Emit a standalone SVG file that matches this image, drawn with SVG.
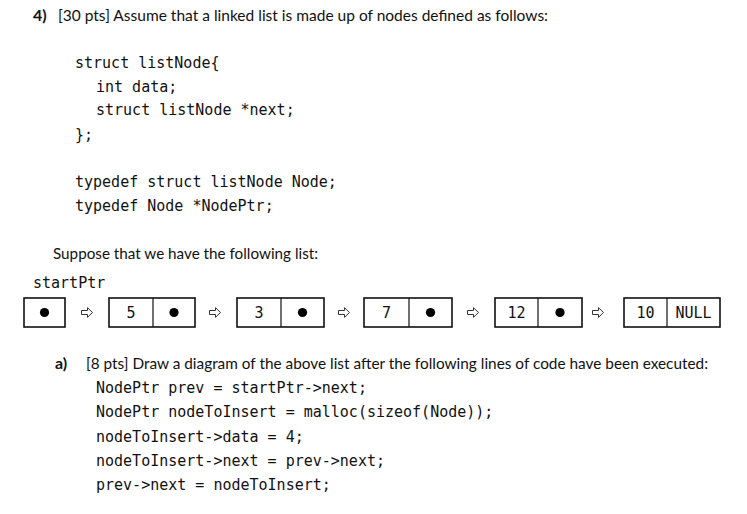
<svg xmlns="http://www.w3.org/2000/svg" xmlns:xlink="http://www.w3.org/1999/xlink" width="747" height="514" viewBox="0 0 747 514">
<style>
.t{font-family:Lato,"Open Sans","Liberation Sans",sans-serif;font-size:16px;fill:#111}
.b{font-weight:bold}
.m{font-family:"DejaVu Sans Mono","Liberation Mono",monospace;font-size:15px;fill:#111}
.box{fill:#fff;stroke:#111;stroke-width:1.6}
.div{stroke:#111;stroke-width:1.2}
.dot{fill:#000}
.c{text-anchor:middle}
.arr{fill:#fff;stroke:#333;stroke-width:1;stroke-linejoin:miter}
</style>
<defs>
<polygon id="harrow" class="arr" points="-5.5,-2 0.5,-2 0.5,-4.8 5.5,0 0.5,4.8 0.5,2 -5.5,2"/>
</defs>
<rect width="747" height="514" fill="#fff"/>
<g id="title">
<text class="t b" x="33" y="21">4)</text>
<text class="t" x="58" y="21" textLength="490" lengthAdjust="spacingAndGlyphs">[30 pts] Assume that a linked list is made up of nodes defined as follows:</text>
</g>
<g id="code-struct">
<text class="m" x="75" y="68">struct listNode{</text>
<text class="m" x="96" y="92">int data;</text>
<text class="m" x="96" y="115">struct listNode *next;</text>
<text class="m" x="75" y="140">};</text>
<text class="m" x="75" y="187">typedef struct listNode Node;</text>
<text class="m" x="75" y="211">typedef Node *NodePtr;</text>
</g>
<g id="suppose">
<text class="t" x="53" y="259" textLength="265" lengthAdjust="spacingAndGlyphs">Suppose that we have the following list:</text>
<text class="m" x="33" y="288">startPtr</text>
</g>
<g id="node-startPtr">
<rect class="box" x="24" y="298" width="41" height="29"/>
<circle class="dot" cx="44.5" cy="312.5" r="4.6"/>
</g>
<g id="node-5">
<rect class="box" x="109" y="298" width="86" height="29"/>
<line class="div" x1="153" y1="298" x2="153" y2="327"/>
<text class="m c" x="131" y="318">5</text>
<circle class="dot" cx="174" cy="312.5" r="4.6"/>
</g>
<g id="node-3">
<rect class="box" x="237" y="298" width="87" height="29"/>
<line class="div" x1="281" y1="298" x2="281" y2="327"/>
<text class="m c" x="259" y="318">3</text>
<circle class="dot" cx="302.5" cy="312.5" r="4.6"/>
</g>
<g id="node-7">
<rect class="box" x="364" y="298" width="88" height="29"/>
<line class="div" x1="409" y1="298" x2="409" y2="327"/>
<text class="m c" x="386.5" y="318">7</text>
<circle class="dot" cx="430.5" cy="312.5" r="4.6"/>
</g>
<g id="node-12">
<rect class="box" x="495" y="298" width="87" height="29"/>
<line class="div" x1="538" y1="298" x2="538" y2="327"/>
<text class="m c" x="516.5" y="318">12</text>
<circle class="dot" cx="560" cy="312.5" r="4.6"/>
</g>
<g id="node-10">
<rect class="box" x="624" y="298" width="96" height="29"/>
<line class="div" x1="667" y1="298" x2="667" y2="327"/>
<text class="m c" x="645.5" y="318">10</text>
<text class="m c" x="693.5" y="318">NULL</text>
</g>
<g id="connectors">
<use xlink:href="#harrow" x="87" y="312.5"/>
<use xlink:href="#harrow" x="215" y="312.5"/>
<use xlink:href="#harrow" x="344" y="312.5"/>
<use xlink:href="#harrow" x="473" y="312.5"/>
<use xlink:href="#harrow" x="598" y="312.5"/>
</g>
<g id="part-a">
<text class="t b" x="55" y="369">a)</text>
<text class="t" x="86" y="369" textLength="622" lengthAdjust="spacingAndGlyphs">[8 pts] Draw a diagram of the above list after the following lines of code have been executed:</text>
<text class="m" x="96" y="393">NodePtr prev = startPtr-&gt;next;</text>
<text class="m" x="96" y="417">NodePtr nodeToInsert = malloc(sizeof(Node));</text>
<text class="m" x="96" y="442">nodeToInsert-&gt;data = 4;</text>
<text class="m" x="96" y="466">nodeToInsert-&gt;next = prev-&gt;next;</text>
<text class="m" x="96" y="490">prev-&gt;next = nodeToInsert;</text>
</g>
</svg>
